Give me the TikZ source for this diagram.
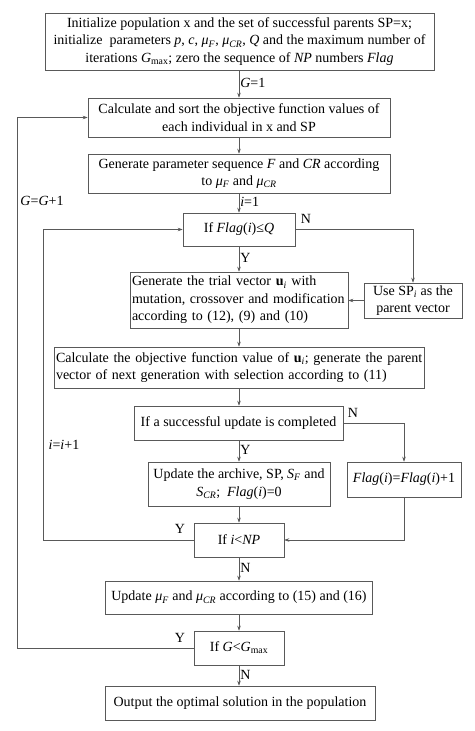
\documentclass[tikz,border=0pt]{standalone}
\usepackage{fontspec}
\setmainfont{Liberation Serif}
\usetikzlibrary{arrows.meta,calc}
\newcommand\mF{\textit{μ}\textsubscript{\textit{F}}}
\newcommand\mCR{\textit{μ}\textsubscript{\textit{CR}}}
\begin{document}
\begin{tikzpicture}[x=1pt,y=-1pt,
  every node/.style={font=\fontsize{14}{17.5}\selectfont},
  box/.style={draw=black!65, line width=0.6pt, inner sep=2pt, align=center},
  conn/.style={draw=black!65, line width=0.6pt, -{Stealth[length=5pt,width=3.5pt]}},
  lbl/.style={inner sep=1pt}]
\useasboundingbox (0,0) rectangle (474,731);
\node[box, minimum width=389, minimum height=57] (b1) at (239.5,41.5)
 {Initialize population x and the set of successful parents SP=x;\\
  initialize~ parameters \textit{p}, \textit{c}, \mF, \mCR, \textit{Q} and the maximum number of\\
  iterations \textit{G}\textsubscript{max}; zero the sequence of \textit{NP} numbers \textit{Flag}};
\node[box, minimum width=302, minimum height=39] (b2) at (239,117.5)
 {Calculate and sort the objective function values of\\ each individual in x and SP};
\node[box, minimum width=302, minimum height=39] (b3) at (239,173.5)
 {Generate parameter sequence \textit{F} and \textit{CR} according\\ to \mF{} and \mCR};
\node[box, minimum width=112, minimum height=33] (b4) at (239,229.5)
 {If \textit{Flag}(\textit{i})≤\textit{Q}};
\node[box, minimum width=218, minimum height=56, text width=214, align=left] (b5) at (239,300)
 {\makebox[\linewidth][s]{Generate the trial vector \textbf{u}\textsubscript{\textit{i}} with}\\
  \makebox[\linewidth][s]{mutation, crossover and modification}\\
  according to (12), (9) and (10)};
\node[box, minimum width=98, minimum height=35] (b6) at (413,300.5)
 {Use SP\textsubscript{\textit{i}} as the\\ parent vector};
\node[box, minimum width=370, minimum height=41, text width=366, inner sep=2pt, align=left] (b7) at (239,367.5)
 {\makebox[\linewidth][s]{Calculate the objective function value of \textbf{u}\textsubscript{\textit{i}}; generate the parent}\\
  vector of next generation with selection according to (11)};
\node[box, minimum width=209, minimum height=34] (b8) at (238.5,423)
 {If a successful update is completed};
\node[box, minimum width=182, minimum height=44] (b9) at (239,484)
 {Update the archive, SP, \textit{S}\textsubscript{\textit{F}} and\\ \textit{S}\textsubscript{\textit{CR}};~ \textit{Flag}(\textit{i})=0};
\node[box, minimum width=114, minimum height=35] (b10) at (404,479.5)
 {\textit{Flag}(\textit{i})=\textit{Flag}(\textit{i})+1};
\node[box, minimum width=90, minimum height=34] (b11) at (239,540)
 {If \textit{i}<\textit{NP}};
\node[box, minimum width=267, minimum height=33] (b12) at (239,597.5)
 {Update \mF{} and \mCR{} according to (15) and (16)};
\node[box, minimum width=90, minimum height=34] (b13) at (239,648)
 {If \textit{G}<\textit{G}\textsubscript{max}};
\node[box, minimum width=270, minimum height=34] (b14) at (240,703)
 {Output the optimal solution in the population};
% coordinates
\coordinate (gl) at (17,0);
\coordinate (il) at (43,0);
\coordinate (nr1) at (413,0);
\coordinate (nr2) at (404,0);
% main flow
\draw[conn] (b1.south -| b2.north) -- node[lbl, right, pos=0.45]{\textit{G}=1} (b2.north);
\draw[conn] (b2) -- (b3);
\draw[conn] (b3) -- node[lbl, right, pos=0.45]{\textit{i}=1} (b4);
\draw[conn] (b4) -- node[lbl, right, pos=0.45]{Y} (b5);
\draw[conn] (b5) -- (b7);
\draw[conn] (b7) -- (b8.north -| b7.south);
\draw[conn] (b8.south -| b9.north) -- node[lbl, right, pos=0.45]{Y} (b9.north);
\draw[conn] (b9) -- (b11);
\draw[conn] (b11) -- node[lbl, right, pos=0.45]{N} (b12);
\draw[conn] (b12.south -| b13.north) -- (b13.north);
\draw[conn] (b13.south) -- node[lbl, right, pos=0.45]{N} (b14.north -| b13.south);
% N branch from b4
\draw[conn] (b4.east) -- (b4.east -| nr1) -- (b6.north);
\node[lbl] (n1) at (306,219) {N};
\draw[conn] (b6.west) -- (b5.east |- b6.west);
% N branch from b8
\draw[conn] (b8.east) -- (b8.east -| nr2) -- (b10.north);
\node[lbl] (n2) at (353,413) {N};
\draw[conn] (b10.south) -- (b10.south |- b11.east) -- (b11.east);
% i loop
\draw[conn] (b11.west) -- (b11.west -| il) -- (b4.west -| il) -- (b4.west);
\node[lbl] (y1) at (180,529) {Y};
\node[lbl] (ii) at (64,445) {\textit{i}=\textit{i}+1};
% G loop
\draw[conn] (b13.west) -- (b13.west -| gl) -- (b2.west -| gl) -- (b2.west);
\node[lbl] (y2) at (180,638) {Y};
\node[lbl] (gg) at (42,201) {\textit{G}=\textit{G}+1};
\end{tikzpicture}
\end{document}
